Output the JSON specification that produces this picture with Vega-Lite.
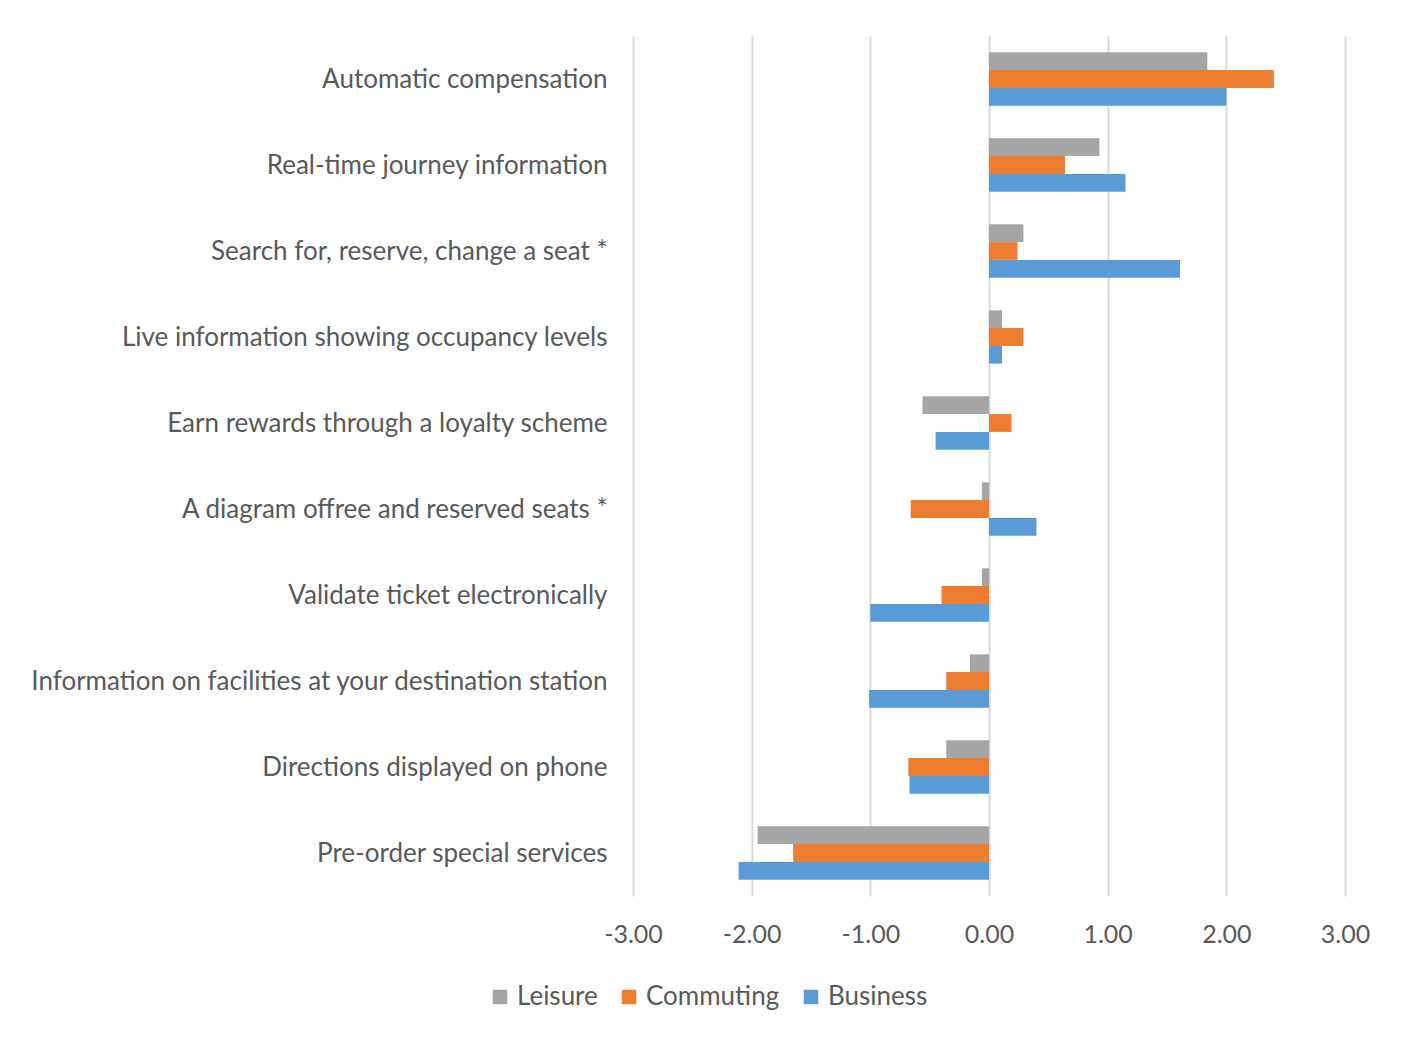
{
  "$schema": "https://vega.github.io/schema/vega-lite/v6.json",
  "width": 712,
  "height": 860,
  "autosize": {"type": "none"},
  "padding": {"left": 633, "top": 36, "right": 62, "bottom": 148},
  "background": "white",
  "config": {"view": {"stroke": null}, "font": "Lato"},
  "data": {
    "values": [
      {"feature": "Automatic compensation", "segment": "Leisure", "value": 1.84},
      {"feature": "Automatic compensation", "segment": "Commuting", "value": 2.40},
      {"feature": "Automatic compensation", "segment": "Business", "value": 2.00},
      {"feature": "Real-time journey information", "segment": "Leisure", "value": 0.93},
      {"feature": "Real-time journey information", "segment": "Commuting", "value": 0.64},
      {"feature": "Real-time journey information", "segment": "Business", "value": 1.15},
      {"feature": "Search for, reserve, change a seat *", "segment": "Leisure", "value": 0.29},
      {"feature": "Search for, reserve, change a seat *", "segment": "Commuting", "value": 0.24},
      {"feature": "Search for, reserve, change a seat *", "segment": "Business", "value": 1.61},
      {"feature": "Live information showing occupancy levels", "segment": "Leisure", "value": 0.11},
      {"feature": "Live information showing occupancy levels", "segment": "Commuting", "value": 0.29},
      {"feature": "Live information showing occupancy levels", "segment": "Business", "value": 0.11},
      {"feature": "Earn rewards through a loyalty scheme", "segment": "Leisure", "value": -0.56},
      {"feature": "Earn rewards through a loyalty scheme", "segment": "Commuting", "value": 0.19},
      {"feature": "Earn rewards through a loyalty scheme", "segment": "Business", "value": -0.45},
      {"feature": "A diagram offree and reserved seats *", "segment": "Leisure", "value": -0.06},
      {"feature": "A diagram offree and reserved seats *", "segment": "Commuting", "value": -0.66},
      {"feature": "A diagram offree and reserved seats *", "segment": "Business", "value": 0.40},
      {"feature": "Validate ticket electronically", "segment": "Leisure", "value": -0.06},
      {"feature": "Validate ticket electronically", "segment": "Commuting", "value": -0.40},
      {"feature": "Validate ticket electronically", "segment": "Business", "value": -1.00},
      {"feature": "Information on facilities at your destination station", "segment": "Leisure", "value": -0.16},
      {"feature": "Information on facilities at your destination station", "segment": "Commuting", "value": -0.36},
      {"feature": "Information on facilities at your destination station", "segment": "Business", "value": -1.01},
      {"feature": "Directions displayed on phone", "segment": "Leisure", "value": -0.36},
      {"feature": "Directions displayed on phone", "segment": "Commuting", "value": -0.68},
      {"feature": "Directions displayed on phone", "segment": "Business", "value": -0.67},
      {"feature": "Pre-order special services", "segment": "Leisure", "value": -1.95},
      {"feature": "Pre-order special services", "segment": "Commuting", "value": -1.65},
      {"feature": "Pre-order special services", "segment": "Business", "value": -2.11}
    ]
  },
  "mark": {"type": "bar"},
  "encoding": {
    "y": {
      "field": "feature",
      "type": "nominal",
      "sort": [
        "Automatic compensation",
        "Real-time journey information",
        "Search for, reserve, change a seat *",
        "Live information showing occupancy levels",
        "Earn rewards through a loyalty scheme",
        "A diagram offree and reserved seats *",
        "Validate ticket electronically",
        "Information on facilities at your destination station",
        "Directions displayed on phone",
        "Pre-order special services"
      ],
      "scale": {"paddingInner": 0.38, "paddingOuter": 0.19},
      "axis": {
        "title": null,
        "ticks": false,
        "domain": false,
        "grid": false,
        "labelPadding": 26,
        "labelFontSize": 26,
        "labelFont": "Lato",
        "labelColor": "#595959",
        "labelLimit": 700,
        "labelOffset": 1
      }
    },
    "yOffset": {
      "field": "segment",
      "type": "nominal",
      "sort": ["Leisure", "Commuting", "Business"],
      "scale": {"paddingInner": 0, "paddingOuter": 0}
    },
    "x": {
      "field": "value",
      "type": "quantitative",
      "scale": {"domain": [-3, 3], "nice": false, "zero": false},
      "axis": {
        "title": null,
        "values": [-3, -2, -1, 0, 1, 2, 3],
        "labelExpr": "(datum.value < 0 ? '-' : '') + format(abs(datum.value), '.2f')",
        "labelFlush": false,
        "domain": false,
        "ticks": false,
        "grid": true,
        "gridColor": "#D9D9D9",
        "gridWidth": 2,
        "labelPadding": 26,
        "labelFontSize": 25,
        "labelFont": "Lato",
        "labelColor": "#595959"
      }
    },
    "color": {
      "field": "segment",
      "type": "nominal",
      "scale": {
        "domain": ["Leisure", "Commuting", "Business"],
        "range": ["#A5A5A5", "#ED7D31", "#5B9BD5"]
      },
      "legend": {
        "title": null,
        "orient": "none",
        "direction": "horizontal",
        "legendX": -146,
        "legendY": 948,
        "symbolType": "square",
        "symbolSize": 210,
        "symbolStrokeWidth": 0,
        "symbolOpacity": 1,
        "labelFontSize": 26,
        "labelFont": "Lato",
        "labelColor": "#595959",
        "labelOffset": 4,
        "columnPadding": 18
      }
    }
  }
}
